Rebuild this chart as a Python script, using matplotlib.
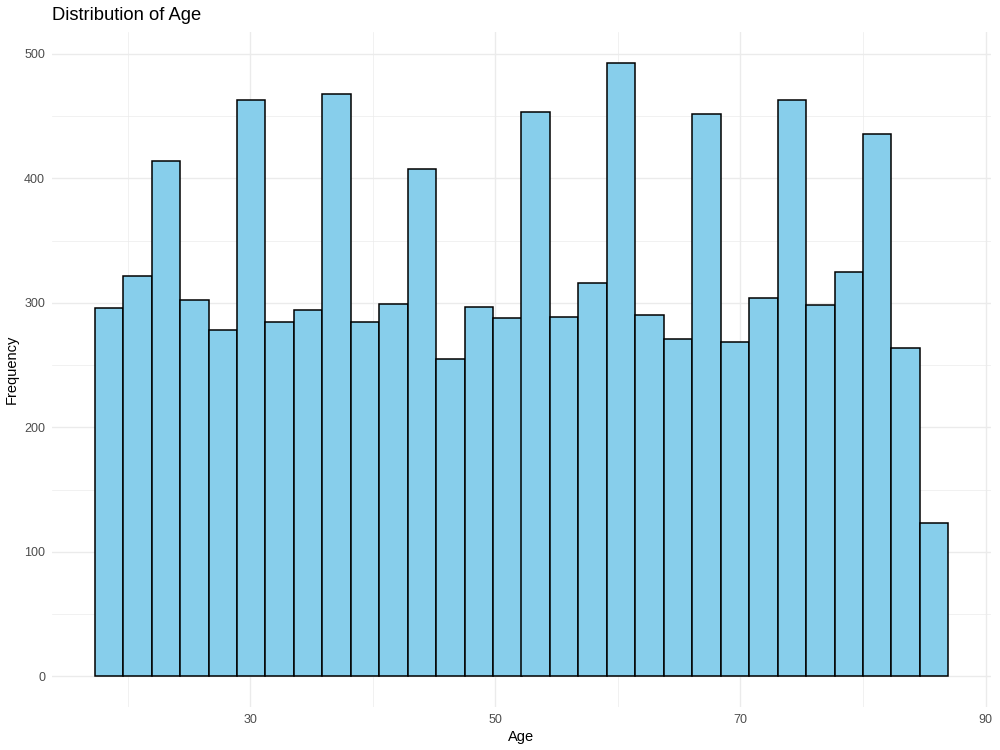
import matplotlib
matplotlib.use("Agg")
import matplotlib.pyplot as plt
import numpy as np

# Histogram counts (30 bins)
counts = [296, 322, 414, 302, 278, 463, 285, 294, 468, 285,
          299, 408, 255, 297, 288, 453, 289, 316, 493, 290,
          271, 452, 269, 304, 463, 298, 325, 436, 264, 123]
bin_start = 17.3
bin_width = 2.322
x_ticks = [30, 50, 70, 90]
x_minor = [20, 40, 60, 80]
y_ticks = [0, 100, 200, 300, 400, 500]
y_minor = [50, 150, 250, 350, 450]

plt.rcParams['font.family'] = ['Liberation Sans', 'DejaVu Sans']

fig = plt.figure(figsize=(10, 7.5), dpi=100)
ax = fig.add_axes([0.052, 0.0573, 0.939, 0.9])

lefts = bin_start + bin_width * np.arange(len(counts))
ax.bar(lefts, counts, width=bin_width, align='edge', color='#87CEEB',
       edgecolor='black', linewidth=1.1, zorder=3)

# ggplot-style expansion of 5%
x0, x1 = lefts[0], lefts[-1] + bin_width
xr = x1 - x0
ax.set_xlim(x0 - 0.05 * xr, x1 + 0.05 * xr)
ymax = max(counts)
ax.set_ylim(-0.05 * ymax, ymax * 1.05)

ax.set_xticks(x_ticks)
ax.set_xticks(x_minor, minor=True)
ax.set_yticks(y_ticks)
ax.set_yticks(y_minor, minor=True)
ax.grid(True, which='major', color='#ebebeb', linewidth=1.0, zorder=0)
ax.grid(True, which='minor', color='#ebebeb', linewidth=0.5, zorder=0)
ax.set_axisbelow(True)

for s in ax.spines.values():
    s.set_visible(False)
ax.tick_params(which='both', length=0, labelsize=9, labelcolor='#4d4d4d', pad=5)

ax.set_xlabel('Age', fontsize=10.5, labelpad=3)
ax.set_ylabel('Frequency', fontsize=10.5, labelpad=4)
fig.text(0.052, 0.98, 'Distribution of Age', fontsize=13.2, ha='left', va='center')

fig.savefig('out.png', dpi=100)
